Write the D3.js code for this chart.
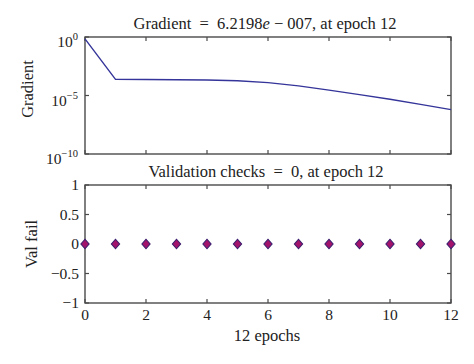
<!DOCTYPE html>
<html>
<head>
<meta charset="utf-8">
<script src="https://cdn.jsdelivr.net/npm/d3@7"></script>
<style>
    body { margin: 0; background: #fff; }
    svg { display: block; font-family: "Liberation Serif", "DejaVu Serif", serif; }
    text { white-space: pre; fill: #222; }
</style>
</head>
<body>
<svg id="chart" width="474" height="364"></svg>
<script>
const epochs   = [0, 1, 2, 3, 4, 5, 6, 7, 8, 9, 10, 11, 12];
const gradient = [0.7, 2.4e-4, 2.35e-4, 2.25e-4, 2.1e-4, 1.8e-4, 1.25e-4, 6.6e-5, 2.9e-5, 1.2e-5, 4.8e-6, 1.75e-6, 6.2198e-7];
const valFail  = [0, 0, 0, 0, 0, 0, 0, 0, 0, 0, 0, 0, 0];

const xTicks    = [0, 2, 4, 6, 8, 10, 12];
const gradTicks = [1, 1e-5, 1e-10];
const gradExps  = ['0', '\u22125', '\u221210'];
const valTicks  = [-1, -0.5, 0, 0.5, 1];
const valLabels = ['\u22121', '\u22120.5', '0', '0.5', '1'];

const svg = d3.select('#chart');

// ---- Layout
const left = 85, right = 451;
const top1 = { y0: 37, y1: 154 };
const top2 = { y0: 185, y1: 303 };
const tickLen = 4;
const boxColor = '#4a4a4a';

const mapX = d3.scaleLinear().domain([0, 12]).range([left, right]);
const mapG = d3.scaleLog().domain([1e-10, 1]).range([top1.y1, top1.y0]);
const mapV = d3.scaleLinear().domain([-1, 1]).range([top2.y1, top2.y0]);

function drawBox(y0, y1, yScale, yTickVals) {
    const g = svg.append('g');
    g.append('rect')
        .attr('x', left).attr('y', y0)
        .attr('width', right - left).attr('height', y1 - y0)
        .attr('fill', 'none')
        .attr('stroke', boxColor)
        .attr('stroke-width', 1.4);

    // x ticks, inward on bottom and top
    xTicks.forEach(t => {
        const x = mapX(t);
        g.append('line').attr('x1', x).attr('x2', x).attr('y1', y1).attr('y2', y1 - tickLen)
            .attr('stroke', boxColor).attr('stroke-width', 1.2);
        g.append('line').attr('x1', x).attr('x2', x).attr('y1', y0).attr('y2', y0 + tickLen)
            .attr('stroke', boxColor).attr('stroke-width', 1.2);
    });

    // y ticks, inward on left and right
    yTickVals.forEach(t => {
        const y = yScale(t);
        g.append('line').attr('x1', left).attr('x2', left + tickLen).attr('y1', y).attr('y2', y)
            .attr('stroke', boxColor).attr('stroke-width', 1.2);
        g.append('line').attr('x1', right).attr('x2', right - tickLen).attr('y1', y).attr('y2', y)
            .attr('stroke', boxColor).attr('stroke-width', 1.2);
    });
    return g;
}

// ---- Top panel: gradient
drawBox(top1.y0, top1.y1, mapG, gradTicks);

const line = d3.line()
    .x((d, i) => mapX(epochs[i]))
    .y(d => mapG(d));

svg.append('path')
    .datum(gradient)
    .attr('d', line)
    .attr('fill', 'none')
    .attr('stroke', '#34349a')
    .attr('stroke-width', 1.4);

gradTicks.forEach((t, i) => {
    const txt = svg.append('text')
        .attr('x', 78)
        .attr('y', mapG(t) + 10)
        .attr('text-anchor', 'end')
        .attr('font-size', 15.5);
    txt.append('tspan').text('10');
    txt.append('tspan')
        .attr('font-size', 10.5)
        .attr('dy', -7)
        .text(gradExps[i]);
});

const title1 = svg.append('text')
    .attr('x', (left + right) / 2 - 3)
    .attr('y', 29)
    .attr('text-anchor', 'middle')
    .attr('font-size', 16.5);
title1.append('tspan').text('Gradient  =  6.2198');
title1.append('tspan').attr('font-style', 'italic').text('e');
title1.append('tspan').text(' \u2212 007, at epoch 12');

svg.append('text')
    .attr('transform', 'translate(33, 89) rotate(-90)')
    .attr('text-anchor', 'middle')
    .attr('font-size', 16.5)
    .text('Gradient');

// ---- Bottom panel: validation checks
drawBox(top2.y0, top2.y1, mapV, valTicks);

svg.append('g')
    .selectAll('path')
    .data(valFail)
    .join('path')
    .attr('transform', (d, i) => `translate(${mapX(epochs[i])}, ${mapV(d)}) scale(1, 1.15) rotate(45)`)
    .attr('d', d3.symbol(d3.symbolSquare, 34)())
    .attr('fill', '#a3126b')
    .attr('stroke', '#3b1f6e')
    .attr('stroke-width', 1);

valTicks.forEach((t, i) => {
    svg.append('text')
        .attr('x', 79)
        .attr('y', mapV(t))
        .attr('dy', '0.35em')
        .attr('text-anchor', 'end')
        .attr('font-size', 15.5)
        .text(valLabels[i]);
});

xTicks.forEach(t => {
    svg.append('text')
        .attr('x', mapX(t))
        .attr('y', 320)
        .attr('text-anchor', 'middle')
        .attr('font-size', 15.5)
        .text(t);
});

svg.append('text')
    .attr('x', (left + right) / 2 - 2)
    .attr('y', 177)
    .attr('text-anchor', 'middle')
    .attr('font-size', 16.5)
    .text('Validation checks  =  0, at epoch 12');

svg.append('text')
    .attr('transform', 'translate(37, 244) rotate(-90)')
    .attr('text-anchor', 'middle')
    .attr('font-size', 16.5)
    .text('Val fail');

svg.append('text')
    .attr('x', 267)
    .attr('y', 341)
    .attr('text-anchor', 'middle')
    .attr('font-size', 16.5)
    .text('12 epochs');
</script>
</body>
</html>
